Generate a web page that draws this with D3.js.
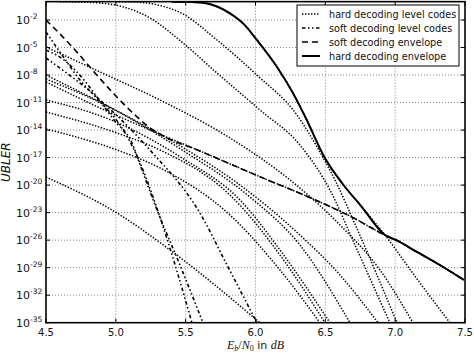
<!DOCTYPE html>
<html lang="en">
<head>
<meta charset="UTF-8">
<script src="https://d3js.org/d3.v7.min.js"></script>
<style>
  body { margin: 0; background: #fff; }
  text { font-family: "DejaVu Sans", sans-serif; fill: #111; }
</style>
</head>
<body>
<svg width="474" height="353" id="chart"></svg>
<script>
// ticks
const xTicks = [4.5, 5.0, 5.5, 6.0, 6.5, 7.0, 7.5];
const yTickExp = [-2, -5, -8, -11, -14, -17, -20, -23, -26, -29, -32, -35];

// every curve: [Eb/N0 in dB, log10(UBLER)]
const hardEnvelope = [[5.40,0],[5.55,-0.05],[5.624,-0.12],[5.72,-0.5],[5.817,-1.27],[5.92,-2.5],[6.01,-4.18],[6.154,-7.12],[6.268,-9.96],[6.354,-12.5],[6.497,-17.04],[6.619,-19.77],[6.762,-22.39],[6.927,-25.44],[7.005,-25.98],[7.156,-27.29],[7.32,-28.71],[7.492,-30.34]];
const softEnvelope = [[4.5,-2],[4.708,-5.27],[4.851,-7.78],[4.994,-10.18],[5.137,-12.35],[5.244,-13.75],[5.33,-14.55],[5.602,-16.28],[6.003,-18.9],[6.461,-21.84],[6.676,-23.37],[6.927,-25.44],[7.005,-25.98],[7.156,-27.29],[7.32,-28.71],[7.492,-30.34]];

const hardA = [[5.0,0],[5.123,-0.03],[5.244,-0.2],[5.481,-1.35],[5.724,-4.18],[6.01,-8.0],[6.297,-12.36],[6.461,-16.39],[6.569,-19.44],[6.712,-24.24],[7.013,-35]];
const hardB = [[4.6,0],[4.672,-0.02],[4.887,-0.147],[5.244,-1.78],[5.481,-4.51],[5.724,-7.78],[6.032,-11.81],[6.318,-15.63],[6.533,-20.53],[6.712,-26.53],[6.962,-35]];
const hardC = [[5.40,0],[5.55,-0.05],[5.624,-0.12],[5.72,-0.5],[5.817,-1.27],[5.92,-2.5],[6.01,-4.18],[6.154,-7.12],[6.268,-9.96],[6.354,-12.5],[6.497,-17.04],[6.619,-19.77],[6.762,-22.39],[6.927,-25.44],[7.15,-30.1],[7.392,-35]];
const hardD = [[4.5,-4.94],[4.887,-7.67],[5.316,-10.72],[5.817,-14.86],[6.247,-19.44],[6.605,-24.35],[6.891,-29.25],[7.127,-35]];
const hardE = [[4.5,-8.0],[5.037,-12.14],[5.474,-15.84],[5.889,-19.99],[6.318,-25.44],[6.605,-29.8],[6.877,-35]];
const hardF = [[4.5,-8.43],[4.965,-11.59],[5.474,-16.17],[5.96,-21.3],[6.318,-26.53],[6.676,-35]];
const hardG = [[4.5,-8.76],[4.887,-11.59],[5.244,-13.99],[5.602,-16.28],[6.003,-18.9],[6.461,-21.84],[6.676,-23.37],[6.927,-25.44],[7.005,-25.98],[7.156,-27.29],[7.32,-28.71],[7.492,-30.34]];
const hardH = [[4.5,-10.72],[4.965,-12.9],[5.474,-17.04],[5.889,-21.62],[6.175,-27.07],[6.533,-35]];
const hardI = [[4.5,-12.03],[5.008,-14.32],[5.316,-16.17],[5.817,-21.08],[6.211,-28.38],[6.497,-35]];
const hardJ = [[4.5,-13.88],[5.008,-16.17],[5.316,-18.13],[5.817,-23.26],[6.175,-29.25],[6.461,-35]];
const hardK = [[4.5,-19.12],[5.008,-23.04],[5.388,-27.07],[6.032,-35]];

const softA = [[4.5,-3.31],[4.629,-6.14],[4.743,-8.54],[4.887,-10.9],[5.03,-13.45],[5.151,-16.8],[5.316,-23.5],[5.545,-35]];
const softB = [[4.5,-5.27],[4.629,-6.36],[4.772,-8.54],[4.865,-10.39],[4.987,-12.9],[5.116,-15.41],[5.18,-18.04],[5.295,-22.71],[5.459,-28.71],[5.624,-35]];
const softC = [[4.5,-6.14],[4.887,-10.72],[5.244,-16.17],[5.602,-23.04],[5.796,-28.71],[6.01,-35]];

const legendLabels = ["hard decoding level codes", "soft decoding level codes", "soft decoding envelope", "hard decoding envelope"];

const hardLevels = [hardA, hardB, hardC, hardD, hardE, hardF, hardG, hardH, hardI, hardJ, hardK];
const softLevels = [softA, softB, softC];

// styles
const styles = [
  { dash: "1.4,1.6", width: 1.5 },
  { dash: "3.5,2.5,1.5,2.5,1.5,2.5", width: 1.6 },
  { dash: "6,4", width: 1.6 },
  { dash: null, width: 2 }
];

const svg = d3.select("#chart");
const margin = { top: 1.65, right: 9, bottom: 30.3, left: 46 };
const width = 474 - margin.left - margin.right;
const height = 353 - margin.top - margin.bottom;

const x = d3.scaleLinear().domain([4.5, 7.5]).range([margin.left, margin.left + width]);
const y = d3.scaleLog().domain([1e-35, 1]).range([margin.top + height, margin.top]);

svg.append("defs").append("clipPath").attr("id", "plot")
  .append("rect").attr("x", margin.left).attr("y", margin.top)
  .attr("width", width).attr("height", height);

// grid
const grid = svg.append("g").attr("stroke", "#777").attr("stroke-width", 0.9).attr("stroke-dasharray", "1,2");
xTicks.slice(1, -1).forEach(t => {
  grid.append("line").attr("x1", x(t)).attr("x2", x(t)).attr("y1", margin.top).attr("y2", margin.top + height);
});
yTickExp.slice(0, -1).forEach(e => {
  grid.append("line").attr("x1", margin.left).attr("x2", margin.left + width).attr("y1", y(Math.pow(10, e))).attr("y2", y(Math.pow(10, e)));
});

const line = d3.line()
  .x(d => x(d[0]))
  .y(d => y(Math.pow(10, d[1])))
  .curve(d3.curveMonotoneX);

const curves = svg.append("g").attr("clip-path", "url(#plot)").attr("fill", "none").attr("stroke", "#000");

function draw(data, st) {
  const p = curves.append("path").attr("d", line(data)).attr("stroke-width", st.width);
  if (st.dash) p.attr("stroke-dasharray", st.dash);
}
hardLevels.forEach(d => draw(d, styles[0]));
softLevels.forEach(d => draw(d, styles[1]));
draw(softEnvelope, styles[2]);
draw(hardEnvelope, styles[3]);

// ticks (inward)
const tk = svg.append("g").attr("stroke", "#000").attr("stroke-width", 1);
xTicks.forEach(t => {
  tk.append("line").attr("x1", x(t)).attr("x2", x(t)).attr("y1", margin.top + height).attr("y2", margin.top + height - 4);
  tk.append("line").attr("x1", x(t)).attr("x2", x(t)).attr("y1", margin.top).attr("y2", margin.top + 4);
});
yTickExp.forEach(e => {
  const yy = y(Math.pow(10, e));
  tk.append("line").attr("x1", margin.left).attr("x2", margin.left + 4).attr("y1", yy).attr("y2", yy);
  tk.append("line").attr("x1", margin.left + width).attr("x2", margin.left + width - 4).attr("y1", yy).attr("y2", yy);
});

// frame
svg.append("rect").attr("x", margin.left).attr("y", margin.top).attr("width", width).attr("height", height)
  .attr("fill", "none").attr("stroke", "#000").attr("stroke-width", 1.6);

// tick labels
xTicks.forEach(t => {
  svg.append("text").attr("x", x(t)).attr("y", margin.top + height + 13)
    .attr("text-anchor", "middle").attr("font-size", 10).text(d3.format(".1f")(t));
});
yTickExp.forEach(e => {
  const yy = y(Math.pow(10, e));
  const tx = svg.append("text").attr("x", 16).attr("y", yy + 4).attr("font-size", 11);
  tx.append("tspan").text("10");
  tx.append("tspan").attr("font-size", 7.5).attr("dy", -5).text(String(e));
});

// axis labels
const xl = svg.append("text").attr("x", x(6.0)).attr("y", 349).attr("text-anchor", "middle").attr("font-size", 11);
xl.append("tspan").attr("font-family", "Liberation Serif, serif").attr("font-style", "italic").attr("font-size", 12).text("E");
xl.append("tspan").attr("font-family", "Liberation Serif, serif").attr("font-style", "italic").attr("font-size", 8).attr("dy", 2).text("b");
xl.append("tspan").attr("font-family", "Liberation Serif, serif").attr("font-size", 12).attr("dy", -2).text("/");
xl.append("tspan").attr("font-family", "Liberation Serif, serif").attr("font-style", "italic").attr("font-size", 12).text("N");
xl.append("tspan").attr("font-family", "Liberation Serif, serif").attr("font-size", 8).attr("dy", 2).text("0");
xl.append("tspan").attr("dy", -2).text(" in ");
xl.append("tspan").attr("font-family", "Liberation Serif, serif").attr("font-style", "italic").attr("font-size", 12).text("dB");

svg.append("text")
  .attr("transform", "translate(10," + (margin.top + height / 2) + ") rotate(-90)")
  .attr("text-anchor", "middle")
  .attr("font-family", "Liberation Serif, serif").attr("font-style", "italic").attr("font-size", 12)
  .text("UBLER");

// legend
const lg = svg.append("g");
lg.append("rect").attr("x", 297).attr("y", 5).attr("width", 162).attr("height", 61)
  .attr("fill", "#fff").attr("stroke", "#000").attr("stroke-width", 1);
legendLabels.forEach((lab, i) => {
  const yy = 14 + i * 14;
  const l = lg.append("line").attr("x1", 302).attr("x2", 320).attr("y1", yy).attr("y2", yy)
    .attr("stroke", "#000").attr("stroke-width", styles[i].width);
  if (styles[i].dash) l.attr("stroke-dasharray", styles[i].dash);
  lg.append("text").attr("x", 329).attr("y", yy + 3.5).attr("font-size", 9.7).text(lab);
});
</script>
</body>
</html>
